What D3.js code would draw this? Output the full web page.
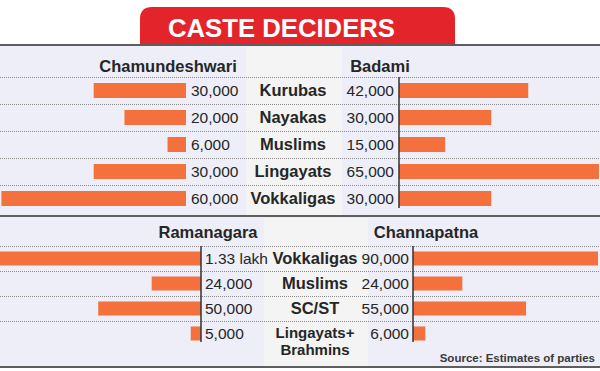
<!DOCTYPE html>
<html>
<head>
<meta charset="utf-8">
<script src="https://cdn.jsdelivr.net/npm/d3@7"></script>
<style>
  body { margin: 0; background: #fff; }
  svg { display: block; font-family: "Liberation Sans", Arial, sans-serif; }
</style>
</head>
<body>
<div id="chart"></div>
<script>
"use strict";

var topCats = ["Kurubas", "Nayakas", "Muslims", "Lingayats", "Vokkaligas"];
var chamundeshwari = [30000, 20000, 6000, 30000, 60000];
var badami = [42000, 30000, 15000, 65000, 30000];

var bottomCats = ["Vokkaligas", "Muslims", "SC/ST", "Lingayats+\nBrahmins"];
var ramanagara = [133000, 24000, 50000, 5000];
var channapatna = [90000, 24000, 55000, 6000];

var title = "CASTE DECIDERS";
var source = "Source: Estimates of parties";

(function draw() {
  var W = 600, H = 371;
  var orange = "#f4703c", ink = "#262626", panelBg = "#edeef8";

  var svg = d3.select("#chart").append("svg").attr("width", W).attr("height", H);

  function fmt(v) {
    if (v >= 100000) return (v / 100000).toFixed(2) + " lakh";
    return d3.format(",")(v);
  }

  // panels
  svg.append("rect").attr("x", 0).attr("y", 46).attr("width", W).attr("height", 321).attr("fill", panelBg);
  svg.append("rect").attr("x", 246).attr("y", 47).attr("width", 96).attr("height", 169).attr("fill", "#f4f4f4");
  svg.append("rect").attr("x", 264).attr("y", 218).attr("width", 104).attr("height", 148).attr("fill", "#f4f4f4");

  // title tab
  var tab = d3.path();
  tab.moveTo(140, 46);
  tab.lineTo(140, 19);
  tab.quadraticCurveTo(140, 7, 152, 7);
  tab.lineTo(443, 7);
  tab.quadraticCurveTo(455, 7, 455, 19);
  tab.lineTo(455, 46);
  tab.closePath();
  svg.append("path").attr("d", tab.toString()).attr("fill", "#e3242b");
  svg.append("text").attr("x", 168).attr("y", 37).text(title)
    .attr("fill", "#fff").attr("font-size", 26).attr("font-weight", "bold")
    .attr("textLength", 227).attr("lengthAdjust", "spacingAndGlyphs");

  [45, 216, 367].forEach(function(y) {
    svg.append("line").attr("x1", 0).attr("x2", W).attr("y1", y).attr("y2", y)
      .attr("stroke", "#5e5e5e").attr("stroke-width", 2);
  });

  function block(opts) {
    var g = svg.append("g");
    var rows = d3.scaleBand().domain(opts.cats).range([opts.y0, opts.y0 + opts.step * opts.cats.length]);
    var x = opts.scale;
    var bh = opts.barH;

    g.append("text").attr("x", opts.leftHead[1]).attr("y", opts.headY).attr("text-anchor", "middle")
      .attr("font-size", 16.5).attr("font-weight", "bold").attr("fill", ink).text(opts.leftHead[0]);
    g.append("text").attr("x", opts.rightHead[1]).attr("y", opts.headY).attr("text-anchor", "middle")
      .attr("font-size", 16.5).attr("font-weight", "bold").attr("fill", ink).text(opts.rightHead[0]);

    g.selectAll(".sep").data(opts.cats).enter().append("line")
      .attr("x1", 0).attr("x2", W)
      .attr("y1", function(d) { return rows(d) + 0.5; }).attr("y2", function(d) { return rows(d) + 0.5; })
      .attr("stroke", "#8a8a8a").attr("stroke-width", 1).attr("stroke-dasharray", "1,1");

    var mid = function(d) { return rows(d) + opts.step / 2; };

    g.selectAll(".lbar").data(opts.cats).enter().append("rect")
      .attr("x", function(d, i) { return opts.leftAxis - x(opts.left[i]); })
      .attr("y", function(d) { return mid(d) - bh / 2; })
      .attr("width", function(d, i) { return x(opts.left[i]); })
      .attr("height", bh).attr("fill", orange);
    g.selectAll(".rbar").data(opts.cats).enter().append("rect")
      .attr("x", opts.rightAxis)
      .attr("y", function(d) { return mid(d) - bh / 2; })
      .attr("width", function(d, i) { return x(opts.right[i]); })
      .attr("height", bh).attr("fill", orange);

    g.selectAll(".lval").data(opts.cats).enter().append("text")
      .attr("x", opts.leftAxis + opts.pad).attr("y", function(d) { return mid(d) + 5.5; })
      .attr("font-size", 15.5).attr("fill", ink)
      .text(function(d, i) { return fmt(opts.left[i]); });
    g.selectAll(".rval").data(opts.cats).enter().append("text")
      .attr("x", opts.rightAxis - opts.pad).attr("y", function(d) { return mid(d) + 5.5; })
      .attr("text-anchor", "end").attr("font-size", 15.5).attr("fill", ink)
      .text(function(d, i) { return fmt(opts.right[i]); });

    // category names, two-line ones get a smaller size
    g.selectAll(".cat").data(opts.cats).enter().append("text")
      .attr("x", opts.catX)
      .attr("y", function(d) { return mid(d) + (d.indexOf("\n") > -1 ? 4 : 5.5); })
      .attr("text-anchor", "middle").attr("font-weight", "bold").attr("fill", ink)
      .attr("font-size", function(d) { return d.indexOf("\n") > -1 ? 15 : 16.5; })
      .each(function(d) {
        var t = d3.select(this);
        d.split("\n").forEach(function(s, k) {
          t.append("tspan").attr("x", opts.catX).attr("dy", k ? 17 : 0).text(s);
        });
      });

    opts.axes.forEach(function(ax) {
      g.append("line").attr("x1", ax).attr("x2", ax)
        .attr("y1", opts.y0).attr("y2", opts.y0 + opts.step * opts.cats.length - 4)
        .attr("stroke", "#333").attr("stroke-width", 1.5);
    });
  }

  block({
    cats: topCats, left: chamundeshwari, right: badami,
    leftHead: ["Chamundeshwari", 168], rightHead: ["Badami", 380], headY: 72,
    y0: 77, step: 27, barH: 15,
    scale: d3.scaleLinear().domain([0, 65000]).range([0, 200]),
    leftAxis: 186, rightAxis: 399, pad: 5, catX: 293, axes: [399]
  });

  block({
    cats: bottomCats, left: ramanagara, right: channapatna,
    leftHead: ["Ramanagara", 208], rightHead: ["Channapatna", 426], headY: 238,
    y0: 246, step: 25, barH: 14,
    scale: d3.scaleLinear().domain([0, 90000]).range([0, 185]),
    leftAxis: 201, rightAxis: 413, pad: 4, catX: 315, axes: [201, 413]
  });

  svg.append("text").attr("x", 595).attr("y", 362).attr("text-anchor", "end")
    .attr("font-size", 11.5).attr("font-weight", "bold").attr("fill", "#3a3a3a").text(source);
})();
</script>
</body>
</html>
